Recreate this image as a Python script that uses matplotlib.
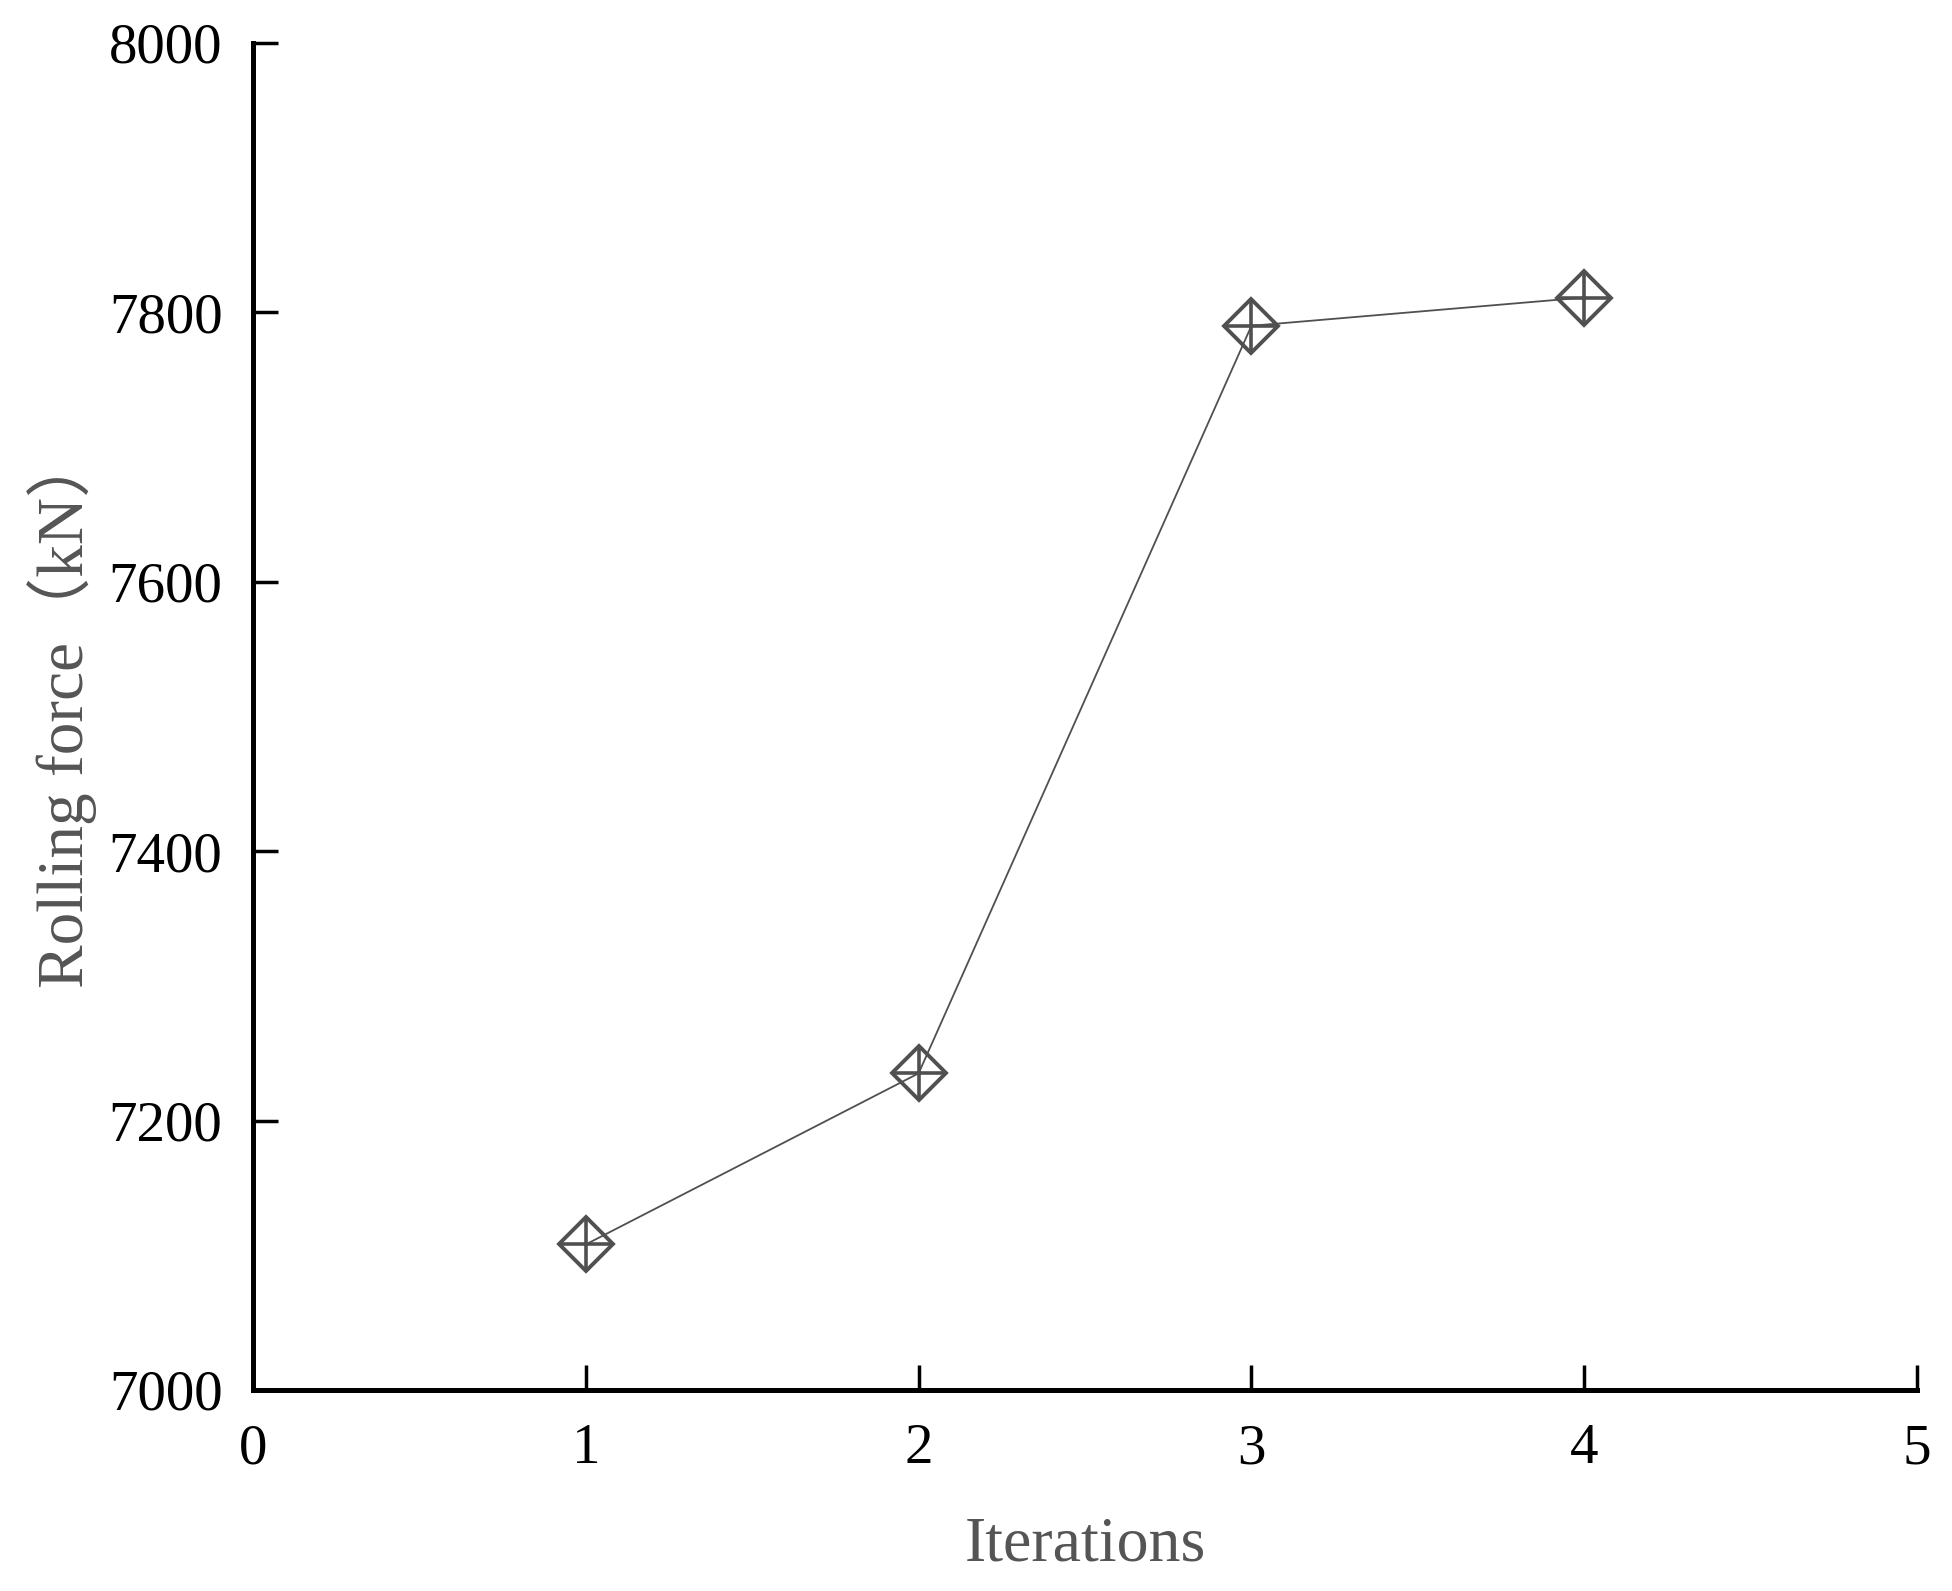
import matplotlib

matplotlib.use("Agg")
import matplotlib.pyplot as plt

# Data
iterations = [1, 2, 3, 4]
rolling_force = [7108, 7235, 7790, 7811]

x_ticks = [0, 1, 2, 3, 4, 5]
y_ticks = [7000, 7200, 7400, 7600, 7800, 8000]

LINE_COLOR = "#505050"
LABEL_COLOR = "#555555"
SERIF = ["Liberation Serif", "Noto Sans CJK SC", "DejaVu Sans"]

plt.rcParams["font.family"] = SERIF

fig = plt.figure(figsize=(19.52, 15.91), dpi=100)
ax = fig.add_axes([0.1296, 0.1264, 0.8525, 0.8466])

ax.plot(iterations, rolling_force, color=LINE_COLOR, linewidth=1.3, zorder=2)
ax.plot(iterations, rolling_force, linestyle="none", marker="D", markersize=27.5,
        markerfacecolor="none", markeredgecolor=LINE_COLOR, markeredgewidth=2.8,
        clip_on=False, zorder=3)
ax.plot(iterations, rolling_force, linestyle="none", marker="+", markersize=39,
        markeredgecolor=LINE_COLOR, markeredgewidth=2.6, clip_on=False, zorder=3)

ax.set_xlim(0, 5)
ax.set_ylim(7000, 8000)
ax.set_xticks(x_ticks)
ax.set_yticks(y_ticks)

for side in ["top", "right"]:
    ax.spines[side].set_visible(False)
for side in ["left", "bottom"]:
    ax.spines[side].set_linewidth(3.6)
    ax.spines[side].set_color("black")

ax.tick_params(axis="both", direction="in", length=18, width=2.5, colors="black",
               labelsize=41)
ax.tick_params(axis="x", pad=24)
ax.tick_params(axis="y", pad=22)

ax.set_xlabel("Iterations", fontsize=46, color=LABEL_COLOR, labelpad=30)
ax.set_ylabel("Rolling force（kN）", fontsize=47, color=LABEL_COLOR)
ax.yaxis.set_label_coords(-0.094, 0.505)

fig.savefig("out.png", dpi=100)
